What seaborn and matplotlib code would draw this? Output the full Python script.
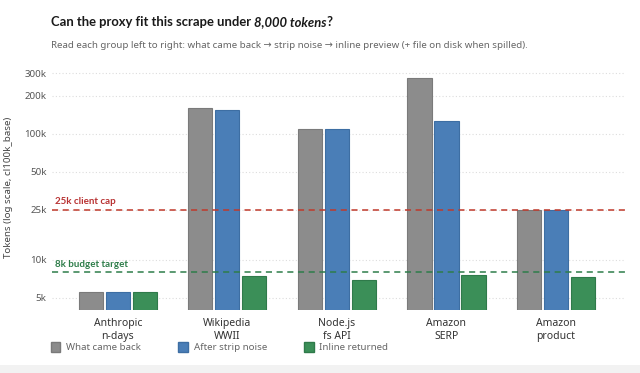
import matplotlib
matplotlib.use("Agg")
import matplotlib.pyplot as plt
import seaborn as sns
import pandas as pd
from matplotlib.patches import Patch, Rectangle

groups = ["Anthropic\nn-days", "Wikipedia\nWWII", "Node.js\nfs API", "Amazon\nSERP", "Amazon\nproduct"]
came_back = [5600, 161000, 109000, 274000, 25000]
after_strip = [5600, 155000, 109000, 125000, 24800]
inline_returned = [5600, 7400, 6950, 7600, 7300]
series = ["What came back", "After strip noise", "Inline returned"]
yticks = [5000, 10000, 25000, 50000, 100000, 200000, 300000]
ytick_labels = ["5k", "10k", "25k", "50k", "100k", "200k", "300k"]
client_cap = 25000
budget_target = 8000

colors = {"What came back": "#8c8c8c", "After strip noise": "#4a7eb7", "Inline returned": "#3b8f58"}
edges = {"What came back": "#7a7a7a", "After strip noise": "#3d6ea3", "Inline returned": "#2f7a4a"}

rows = []
for name, vals in zip(series, [came_back, after_strip, inline_returned]):
    for g, v in zip(groups, vals):
        rows.append({"group": g, "series": name, "tokens": v})
df = pd.DataFrame(rows)

sns.set_style("white")
plt.rcParams["font.family"] = ["Noto Sans", "DejaVu Sans"]
bold_font = ["Lato", "DejaVu Sans"]

fig = plt.figure(figsize=(6.4, 3.73), dpi=100)
ax = fig.add_axes([52 / 640, 1 - 310 / 373, (625 - 52) / 640, (310 - 65) / 373])
ax.set_yscale("log")

sns.barplot(
    data=df, x="group", y="tokens", hue="series", order=groups, hue_order=series,
    palette=colors, width=0.74, gap=0.1, ax=ax, legend=False, saturation=1,
)
for i, p in enumerate(ax.patches):
    s = series[i // len(groups)]
    p.set_edgecolor(edges[s])
    p.set_linewidth(0.8)

ax.set_ylim(4000, 350000)
ax.set_xlim(-0.6, 4.63)
ax.set_yticks(yticks)
ax.set_yticklabels(ytick_labels)
ax.yaxis.set_minor_locator(plt.NullLocator())
ax.tick_params(axis="y", length=0, labelsize=7, labelcolor="#555555", pad=4)
ax.tick_params(axis="x", length=0, labelsize=7.5, labelcolor="#333333", pad=6)
for lab in ax.get_xticklabels():
    lab.set_linespacing(1.2)
ax.yaxis.grid(True, color="#dddddd", linestyle=(0, (1, 2)), linewidth=0.8)
ax.set_axisbelow(True)
for sp in ax.spines.values():
    sp.set_visible(False)
ax.set_xlabel("")
ax.set_ylabel("Tokens (log scale, cl100k_base)", fontsize=7, color="#444444", labelpad=8)

ax.axhline(client_cap, color="#c0392b", linestyle=(0, (4, 3)), linewidth=1.1, zorder=3)
ax.axhline(budget_target, color="#2e7d4a", linestyle=(0, (4, 3)), linewidth=1.1, zorder=3)
ax.text(0.005, client_cap * 1.06, "25k client cap", transform=ax.get_yaxis_transform(),
        color="#b83232", fontsize=7, fontweight="bold", va="bottom", family=bold_font)
ax.text(0.005, budget_target * 1.06, "8k budget target", transform=ax.get_yaxis_transform(),
        color="#2e7d4a", fontsize=7, fontweight="bold", va="bottom", family=bold_font)

# title with italic part
fig.canvas.draw()
r = fig.canvas.get_renderer()
x = 51 / 640
y = 1 - 22 / 373
for txt, style in [("Can the proxy fit this scrape under\u00a0", "normal"), ("8,000 tokens", "italic"), ("?", "normal")]:
    t = fig.text(x, y, txt, fontsize=9.4, fontweight="bold", fontstyle=style, color="#1a1a1a",
                 va="center", family=bold_font)
    bb = t.get_window_extent(renderer=r)
    x += bb.width / fig.bbox.width
fig.text(51 / 640, 1 - 45 / 373,
         "Read each group left to right: what came back \u2192 strip noise \u2192 inline preview (+ file on disk when spilled).",
         fontsize=7, color="#666666", va="center")

handles = [Patch(facecolor=colors[s], edgecolor=edges[s], label=s) for s in series]
fig.legend(handles=handles, loc="center left", bbox_to_anchor=(42 / 640, 1 - 347 / 373), ncol=3,
           frameon=False, fontsize=7, labelcolor="#666666", handlelength=1.0, handleheight=1.2,
           handletextpad=0.6, columnspacing=3.8)

fig.patches.append(Rectangle((0, 0), 1, 8 / 373, transform=fig.transFigure, facecolor="#f2f2f2",
                             edgecolor="none", zorder=0))

fig.savefig("out.png", dpi=100)
